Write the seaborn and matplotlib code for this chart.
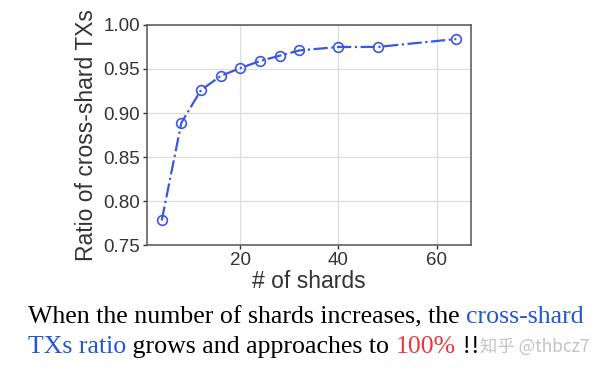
import matplotlib.pyplot as plt
import seaborn as sns
import pandas as pd

# data
shards = [4, 8, 12, 16, 20, 24, 28, 32, 40, 48, 64]
ratio = [0.778, 0.889, 0.926, 0.942, 0.951, 0.959, 0.965, 0.971, 0.975, 0.975, 0.984]
yticks = [0.75, 0.80, 0.85, 0.90, 0.95, 1.00]

df = pd.DataFrame({'shards': shards, 'ratio': ratio})

sns.set_theme(style='whitegrid')
plt.rcParams['font.family'] = ['Liberation Sans', 'DejaVu Sans']

fig = plt.figure(figsize=(6, 3.72), dpi=100)
ax = fig.add_axes([0.245, 0.341, 0.54, 0.592])

blue = '#3a57e0'
sns.lineplot(data=df, x='shards', y='ratio', ax=ax, color=blue, linestyle='-.',
             linewidth=1.6, marker='o', markersize=7, markerfacecolor='none',
             markeredgecolor=blue, markeredgewidth=1.2)

ax.set_ylim(0.75, 1.00)
ax.set_yticks(yticks)
ax.set_yticklabels([f'{t:.2f}' for t in yticks])
ax.set_xticks([20, 40, 60])
ax.set_xlabel('# of shards', fontsize=16.5, color='#333333', labelpad=1)
ax.set_ylabel('Ratio of cross-shard TXs', fontsize=16.5, color='#333333', labelpad=4)
ax.tick_params(axis='both', labelsize=13.5, colors='#333333', length=3, width=1,
               direction='out', pad=2, left=True, bottom=True)
ax.grid(color='#dddddd', linewidth=0.9)
for s in ax.spines.values():
    s.set_color('#555555')
    s.set_linewidth(1.1)

# caption below the chart, pieces chained left to right
serif = ['Liberation Serif', 'DejaVu Serif']
fs = 18.6
renderer = fig.canvas.get_renderer()


def line(pieces, y):
    x = 28
    for txt, col in pieces:
        t = fig.text(x / 600, y, txt, family=serif, fontsize=fs, color=col)
        x = t.get_window_extent(renderer).x1
    return x


line([('When the number of shards increases, the ', 'black'),
      ('cross-shard', '#2456d8')], 1 - 323 / 372)
end = line([('TXs ratio', '#2456d8'), (' grows and approaches to ', 'black'),
            ('100%', '#e83838'), (' !!', 'black')], 1 - 353 / 372)
fig.text((end + 1) / 600, 1 - 352 / 372, '知乎 @thbcz7',
         family=['Noto Sans CJK SC', 'DejaVu Sans'], fontsize=12.5, color='#c4c4c4')

fig.savefig('out.png', dpi=100)
